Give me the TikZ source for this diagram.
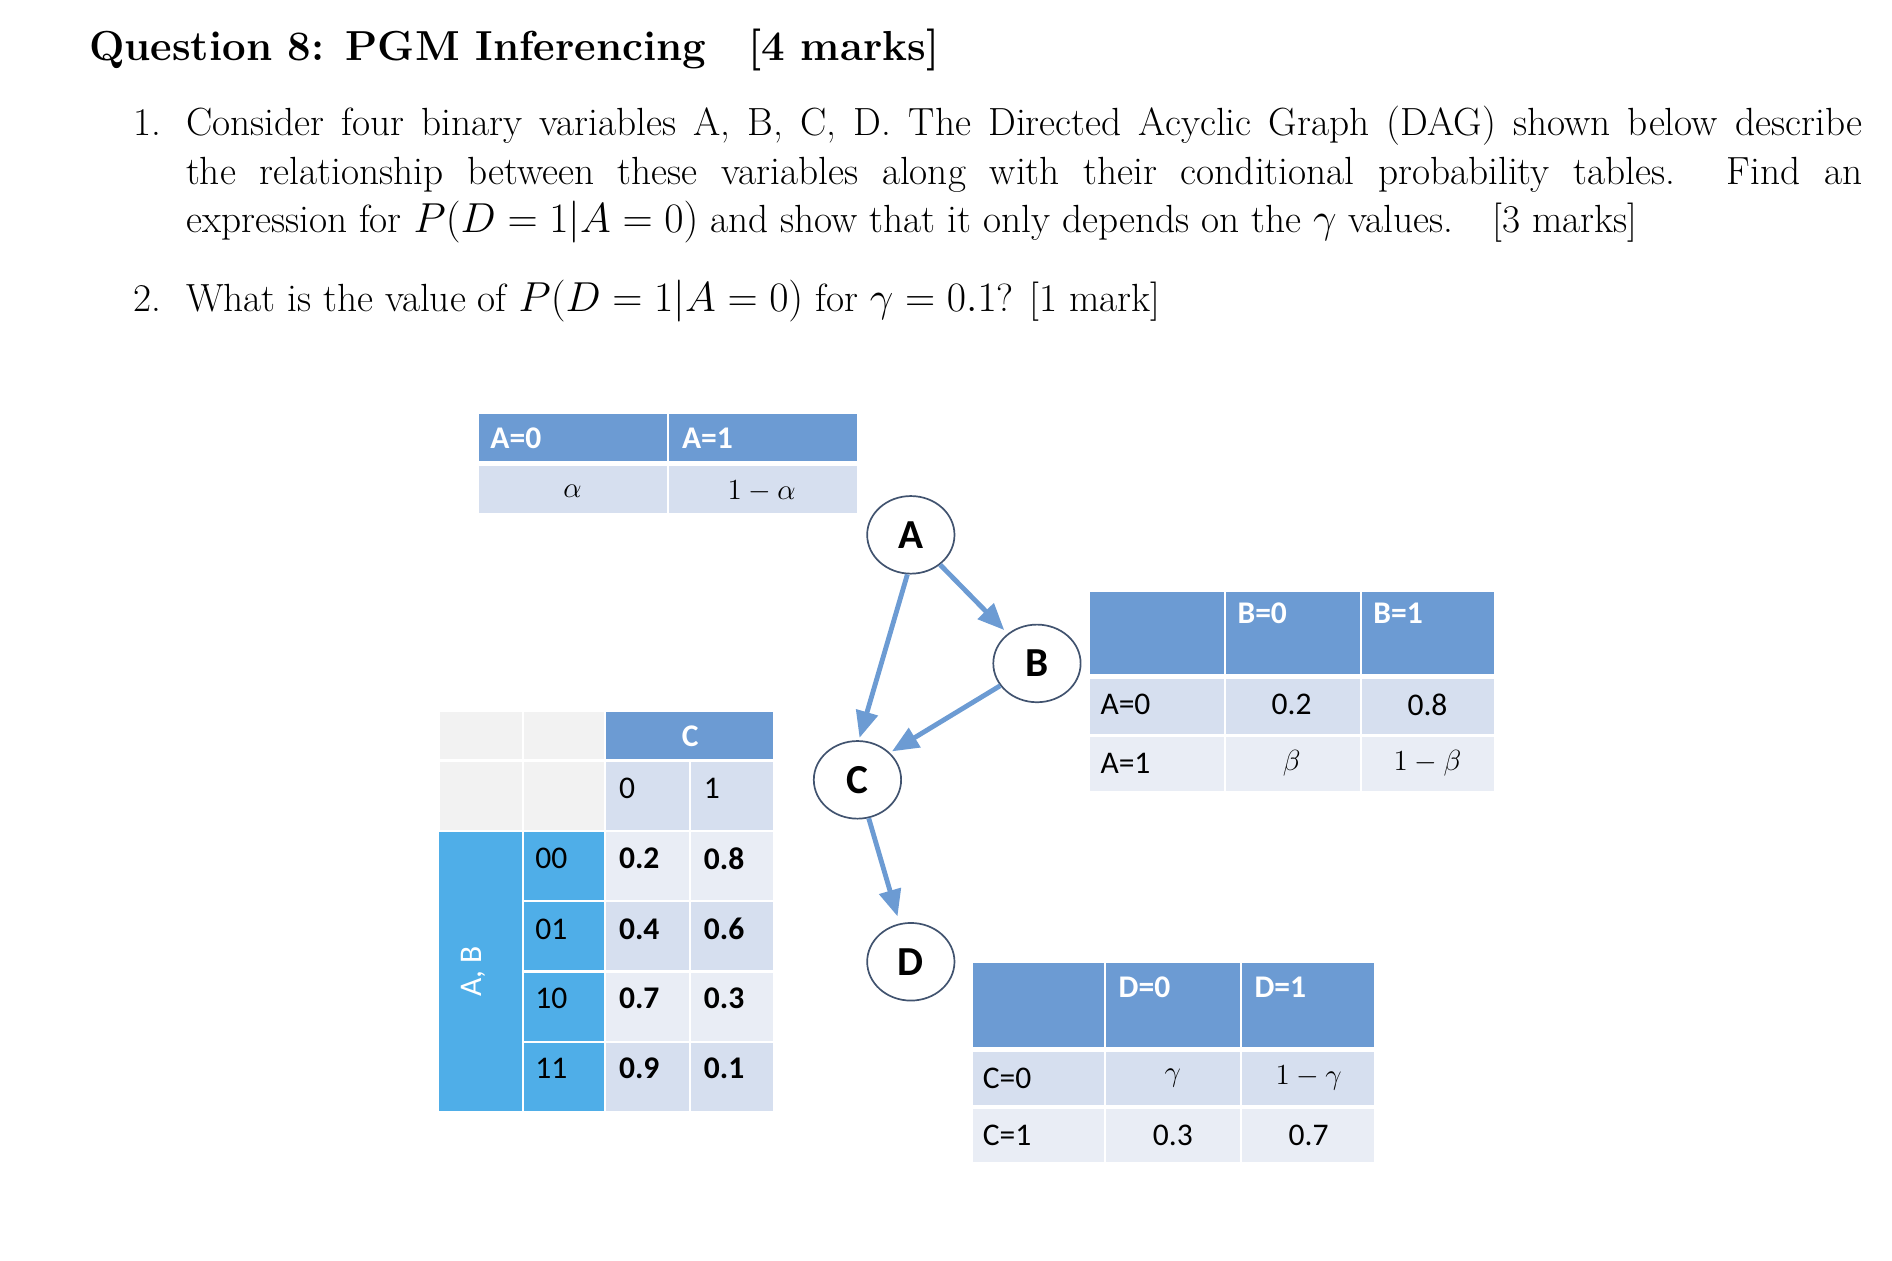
\documentclass[tikz,border=0pt]{standalone}
\usepackage{fontspec}
\newfontfamily\carl{Carlito}
\usetikzlibrary{shapes.geometric,arrows.meta}
\definecolor{hdr}{HTML}{6C9BD3}
\definecolor{rowA}{HTML}{D6DFEF}
\definecolor{rowB}{HTML}{E9EDF5}
\definecolor{gry}{HTML}{F2F2F2}
\definecolor{sky}{HTML}{4FAEE8}
\definecolor{nodeline}{HTML}{41536F}
\newcommand{\cellbox}[5]{\fill[#5,draw=white,line width=1pt] (#1,#2) rectangle (#3,#4);}
\begin{document}
\begin{tikzpicture}[x=0.5pt,y=-0.5pt,
  tt/.style={font=\carl\fontsize{13}{14}\selectfont,inner sep=0pt},
  th/.style={tt,text=white,font=\carl\bfseries\fontsize{13}{14}\selectfont},
  tb/.style={tt,font=\carl\bfseries\fontsize{13}{14}\selectfont},
  var/.style={ellipse,draw=nodeline,line width=0.7pt,fill=white,minimum width=36pt,minimum height=32pt,inner sep=0pt,font=\carl\bfseries\fontsize{17}{18}\selectfont},
  edge/.style={draw=hdr,line width=2pt,-{Triangle[length=11pt,width=9pt]}},
  body/.style={anchor=base west,inner sep=0pt,font=\fontsize{16.2}{20}\selectfont}]
\useasboundingbox (0,0) rectangle (1560,1039);
% text
\node[anchor=base west,inner sep=0pt,font=\fontsize{17.3}{20}\selectfont\bfseries] (title) at (73,50) {Question 8: PGM Inferencing\quad[4 marks]};
\node[body] (n1) at (110,112) {1.};
\node[body] (l1) at (153,112) {\makebox[691pt][s]{Consider four binary variables A, B, C, D. The Directed Acyclic Graph (DAG) shown below describe}};
\node[body] (l2) at (153,152) {\makebox[691pt][s]{the relationship between these variables along with their conditional probability tables. Find an}};
\node[body] (l3) at (153,192) {expression for $P(D=1|A=0)$ and show that it only depends on the $\gamma$ values.\quad[3 marks]};
\node[body] (n2) at (110,257) {2.};
\node[body] (l4) at (153,257) {What is the value of $P(D=1|A=0)$ for $\gamma=0.1$? [1 mark]};
% table A
\cellbox{394}{340}{551}{381}{hdr}\cellbox{551}{340}{708}{381}{hdr}
\cellbox{394}{383}{551}{424}{rowA}\cellbox{551}{383}{708}{424}{rowA}
\node[th,anchor=west] at (404,361) {A=0};
\node[th,anchor=west] at (562,361) {A=1};
\node[tt] at (472,405) {$\alpha$};
\node[tt] at (628,405) {$1-\alpha$};
% table B
\cellbox{898}{487}{1010}{557}{hdr}\cellbox{1010}{487}{1122}{557}{hdr}\cellbox{1122}{487}{1233}{557}{hdr}
\cellbox{898}{559}{1010}{606}{rowA}\cellbox{1010}{559}{1122}{606}{rowA}\cellbox{1122}{559}{1233}{606}{rowA}
\cellbox{898}{607}{1010}{653}{rowB}\cellbox{1010}{607}{1122}{653}{rowB}\cellbox{1122}{607}{1233}{653}{rowB}
\node[th,anchor=west] at (1020,506) {B=0};
\node[th,anchor=west] at (1132,506) {B=1};
\node[tt,anchor=west] at (907,581) {A=0};
\node[tt] at (1065,581) {0.2};
\node[tt] at (1177,581) {0.8};
\node[tt,anchor=west] at (907,629) {A=1};
\node[tt] at (1065,629) {$\beta$};
\node[tt] at (1177,629) {$1-\beta$};
% table C
\cellbox{362}{586}{431}{627}{gry}\cellbox{431}{586}{499}{627}{gry}\cellbox{499}{586}{638}{627}{hdr}
\cellbox{362}{627}{431}{685}{gry}\cellbox{431}{627}{499}{685}{gry}\cellbox{499}{627}{569}{685}{rowA}\cellbox{569}{627}{638}{685}{rowA}
\fill[sky] (362,686) rectangle (430,916);
\foreach \y/\c in {685/rowB,743/rowA,801/rowB,859/rowA}{
  \pgfmathsetmacro{\yy}{\y+58}
  \cellbox{431}{\y}{499}{\yy}{sky}\cellbox{499}{\y}{569}{\yy}{\c}\cellbox{569}{\y}{638}{\yy}{\c}}
\node[th] at (569,607) {C};
\node[tt,anchor=west] at (510,650) {0};
\node[tt,anchor=west] at (580,650) {1};
\node[tt,text=white,rotate=90] at (390,801) {A, B};
\foreach \y/\a/\b/\c in {708/00/0.2/0.8,766/01/0.4/0.6,823/10/0.7/0.3,881/11/0.9/0.1}{
  \node[tt,anchor=west] at (441,\y) {\a};
  \node[tb,anchor=west] at (510,\y) {\b};
  \node[tb,anchor=west] at (580,\y) {\c};}
% table D
\cellbox{801}{793}{911}{864}{hdr}\cellbox{911}{793}{1023}{864}{hdr}\cellbox{1023}{793}{1134}{864}{hdr}
\cellbox{801}{866}{911}{912}{rowA}\cellbox{911}{866}{1023}{912}{rowA}\cellbox{1023}{866}{1134}{912}{rowA}
\cellbox{801}{913}{911}{959}{rowB}\cellbox{911}{913}{1023}{959}{rowB}\cellbox{1023}{913}{1134}{959}{rowB}
\node[th,anchor=west] at (922,814) {D=0};
\node[th,anchor=west] at (1034,814) {D=1};
\node[tt,anchor=west] at (810,889) {C=0};
\node[tt] at (967,889) {$\gamma$};
\node[tt] at (1079,889) {$1-\gamma$};
\node[tt,anchor=west] at (810,936) {C=1};
\node[tt] at (967,936) {0.3};
\node[tt] at (1079,936) {0.7};
% graph
\node[var] (A) at (751,441) {A};
\node[var] (B) at (855,547) {B};
\node[var] (C) at (707,643) {C};
\node[var] (D) at (751,793) {D};
\draw[edge,shorten >=2pt] (A) -- (B);
\draw[edge,shorten >=1pt] (A.-95) -- (C.88);
\draw[edge,shorten >=1pt] (B) -- (C.40);
\draw[edge,shorten >=3pt] (C) -- (D);
\end{tikzpicture}
\end{document}
